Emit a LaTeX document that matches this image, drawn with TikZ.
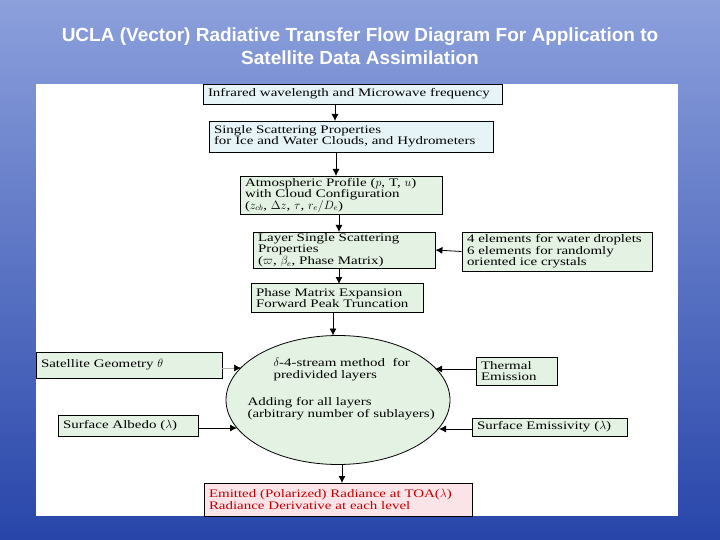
\documentclass[tikz,border=0pt]{standalone}
\usepackage{fontspec}
\setmainfont{Liberation Serif}[FakeStretch=1.3]
\newfontfamily\titlefont{Liberation Sans}
\usetikzlibrary{shapes.geometric,arrows.meta}
\definecolor{lblue}{HTML}{E6F4F8}
\definecolor{lgreen}{HTML}{E4F2E4}
\definecolor{lpink}{HTML}{FBE4E8}
\begin{document}
\begin{tikzpicture}[x=1pt,y=-1pt,
  box/.style={draw=black,line width=0.8pt,inner xsep=5pt,inner ysep=0pt,align=left,font=\fontsize{11.5}{11.5}\selectfont,anchor=center},
  arr/.style={-{Latex[length=7pt,width=7pt]},line width=0.8pt},
  garr/.style={-{Latex[length=7pt,width=7pt,color=black]},line width=0.6pt,draw=gray!60}]
\useasboundingbox (0,0) rectangle (720,540);
\shade[top color={rgb,255:red,140;green,160;blue,220},bottom color={rgb,255:red,40;green,70;blue,170}] (0,0) rectangle (720,540);
\fill[white] (36,84) rectangle (678,516);
\node[white,font=\titlefont\bfseries\fontsize{19}{23}\selectfont,align=center] (title) at (360,46)
  {UCLA (Vector) Radiative Transfer Flow Diagram For Application to\\Satellite Data Assimilation};
\node[box,fill=lblue,minimum width=299pt,minimum height=20pt,text width=289pt] (ir) at (352.5,94)
  {Infrared wavelength and Microwave frequency};
\node[box,fill=lblue,minimum width=284pt,minimum height=31pt,text width=274pt] (ss) at (351,136.5)
  {Single Scattering Properties\\for Ice and Water Clouds, and Hydrometers};
\node[box,fill=lgreen,minimum width=202pt,minimum height=38pt,text width=192pt] (atm) at (341,195)
  {Atmospheric Profile ($p$, T, $u$)\\with Cloud Configuration\\($z_{cb}$, $\Delta z$, $\tau$, $r_e/D_e$)};
\node[box,fill=lgreen,minimum width=182pt,minimum height=36pt,text width=172pt] (lss) at (344,250)
  {Layer Single Scattering\\Properties\\($\varpi$, $\beta_e$, Phase Matrix)};
\node[box,fill=lgreen,minimum width=190pt,minimum height=39pt,text width=180pt] (el) at (557,251.5)
  {4 elements for water droplets\\6 elements for randomly\\oriented ice crystals};
\node[box,fill=lgreen,minimum width=172pt,minimum height=29pt,text width=162pt] (pm) at (337,298)
  {Phase Matrix Expansion\\Forward Peak Truncation};
\node[ellipse,draw=black,line width=0.8pt,fill=lgreen,minimum width=224pt,minimum height=129pt,inner sep=0pt] (core) at (338,400) {};
\node[font=\fontsize{11.5}{12}\selectfont,align=left,anchor=west] (m1) at (270,370)
  {$\delta$-4-stream method\ \ for\\predivided layers};
\node[font=\fontsize{11.5}{12}\selectfont,align=left,anchor=west] (m2) at (244,409)
  {Adding for all layers\\(arbitrary number of sublayers)};
\node[box,fill=lgreen,minimum width=186pt,minimum height=26pt,text width=176pt] (sat) at (129,365)
  {Satellite Geometry $\theta$};
\node[box,fill=lgreen,minimum width=81pt,minimum height=28pt,text width=71pt] (th) at (516.5,371)
  {Thermal\\Emission};
\node[box,fill=lgreen,minimum width=140pt,minimum height=21pt,text width=130pt] (alb) at (128,425.5)
  {Surface Albedo ($\lambda$)};
\node[box,fill=lgreen,minimum width=155pt,minimum height=18pt,text width=145pt] (emi) at (549.5,427)
  {Surface Emissivity ($\lambda$)};
\node[box,fill=lpink,text=red!75!black,minimum width=268pt,minimum height=33pt,text width=258pt] (out) at (338,499.5)
  {Emitted (Polarized) Radiance at TOA($\lambda$)\\Radiance Derivative at each level};
\coordinate (e1) at (241,368);
\coordinate (e2) at (435,369);
\coordinate (e3) at (237,428);
\coordinate (e4) at (439,429);
\draw[arr] (335,104) -- (335,121);
\draw[arr] (336,152) -- (336,176);
\draw[arr] (339,214) -- (339,232);
\draw[arr] (339,268) -- (339,284);
\draw[arr] (el.west) -- (lss.east);
\draw[arr] (333,312.5) -- (333,335.5);
\draw[garr] (sat.east |- e1) -- (e1);
\draw[arr] (th.west |- e2) -- (e2);
\draw[arr] (alb.east |- e3) -- (e3);
\draw[arr] (emi.west |- e4) -- (e4);
\draw[arr] (342,464.5) -- (342,483);
\end{tikzpicture}
\end{document}
